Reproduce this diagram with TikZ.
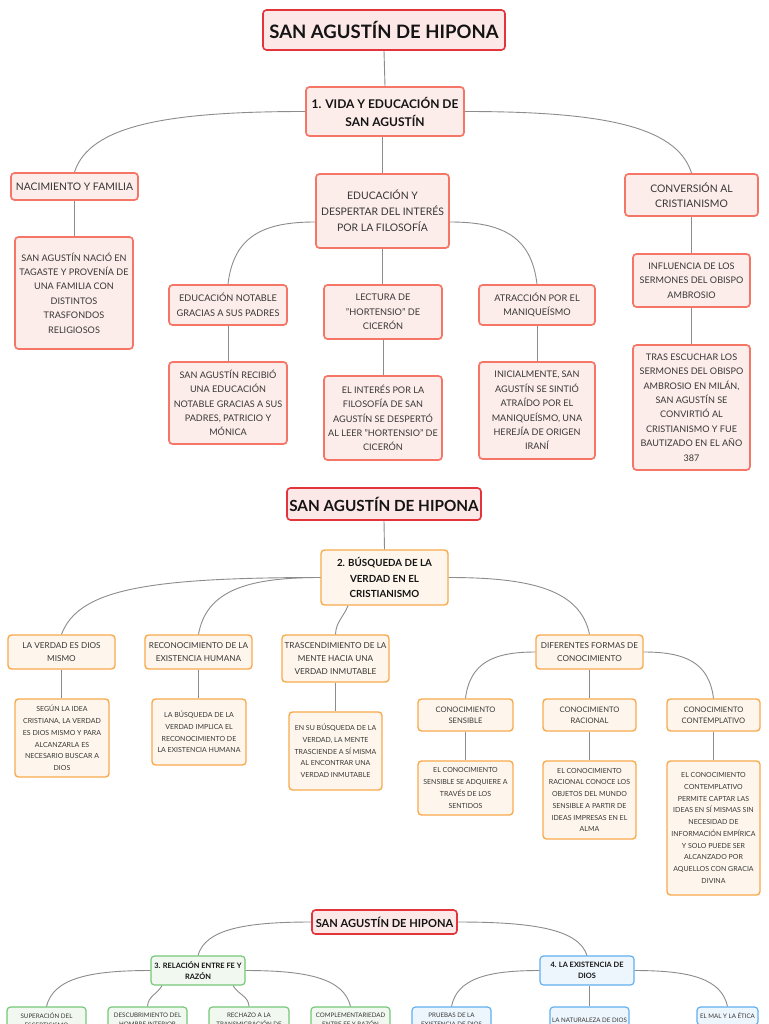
\documentclass[tikz,border=0pt]{standalone}
\usepackage{fontspec}
\setmainfont{Lato}
\usetikzlibrary{calc}
\definecolor{linec}{RGB}{140,140,140}
\definecolor{txt}{RGB}{55,55,55}
\definecolor{ttl}{RGB}{20,20,20}
\definecolor{c0f}{RGB}{253,232,232}
\definecolor{c0d}{RGB}{226,52,58}
\definecolor{c1f}{RGB}{253,237,234}
\definecolor{c1d}{RGB}{245,118,102}
\definecolor{c2f}{RGB}{254,246,236}
\definecolor{c2d}{RGB}{248,170,78}
\definecolor{c3f}{RGB}{241,248,239}
\definecolor{c3d}{RGB}{118,200,120}
\definecolor{c4f}{RGB}{238,246,253}
\definecolor{c4d}{RGB}{96,176,238}
\tikzset{
  conn/.style={draw=linec, line width=0.9pt},
  branch/.style={to path={let \p1=(\tikztostart), \p2=(\tikztotarget) in
    .. controls ({\x1+#1*(\x2-\x1)},\y1) and ({\x2-0.065*(\x2-\x1)},{\y2-0.78*(\y2-\y1)}) .. (\tikztotarget)}},
  branch/.default=0.59,
  geom/.style n args={4}{at={({(#1+#3)/2},{(#2+#4)/2})}, minimum width={(#3-#1)*1pt}, minimum height={(#4-#2)*1pt}},
  box/.style={rectangle, rounded corners=3.5pt, inner sep=0pt, align=center, text=txt},
  b0/.style={box, draw=c0d, fill=c0f, line width=1.6pt, text=ttl},
  b1/.style={box, draw=c1d, fill=c1f, line width=1.7pt},
  b2/.style={box, draw=c2d, fill=c2f, line width=1.4pt},
  b3/.style={box, draw=c3d, fill=c3f, line width=1.2pt},
  b4/.style={box, draw=c4d, fill=c4f, line width=1.2pt},
  fbig/.style={font={\fontsize{18.5}{22}\bfseries\selectfont}},
  fbigb/.style={font={\fontsize{15.3}{18}\bfseries\selectfont}},
  fbigc/.style={font={\fontsize{11.1}{13}\bfseries\selectfont}},
  fs1/.style={font={\fontsize{12}{18}\bfseries\selectfont}},
  fm1/.style={font={\fontsize{10.4}{15.3}\selectfont}},
  fn1/.style={font={\fontsize{9.2}{14.5}\selectfont}},
  fl1/.style={font={\fontsize{9.1}{14.4}\selectfont}},
  fs2/.style={font={\fontsize{9.8}{15.7}\bfseries\selectfont}},
  fm2/.style={font={\fontsize{8.2}{13}\selectfont}},
  fk2/.style={font={\fontsize{7.6}{11.3}\selectfont}},
  fl2/.style={font={\fontsize{7.0}{11.7}\selectfont}},
  fs3/.style={font={\fontsize{7.4}{11}\bfseries\selectfont}},
  fl3/.style={font={\fontsize{6.2}{9}\selectfont}},
}
\begin{document}
\begin{tikzpicture}[x=1pt,y=-1pt]
\useasboundingbox (0,0) rectangle (768,1024);
\fill[white] (0,0) rectangle (768,1024);
\clip (0,0) rectangle (768,1024);
% ---------------- Section 1
\node[b0,fbig, geom={263}{10}{505}{50}] (t1) {SAN AGUSTÍN DE HIPONA};
\node[b1,fs1,text=ttl, geom={306}{87}{464}{136}] (s1) {1. VIDA Y EDUCACIÓN DE\\SAN AGUSTÍN};
\node[b1,fm1, geom={11}{173}{138}{200}] (nac) {NACIMIENTO Y FAMILIA};
\node[b1,fm1,font={\fontsize{10.4}{16}\selectfont}, geom={316}{174}{449}{248}] (edu) {EDUCACIÓN Y\\DESPERTAR DEL INTERÉS\\POR LA FILOSOFÍA};
\node[b1,fm1, geom={625}{174}{758}{216}] (conv) {CONVERSIÓN AL\\CRISTIANISMO};
\node[b1,fl1, geom={15}{237}{133}{349}] (nacL) {SAN AGUSTÍN NACIÓ EN\\TAGASTE Y PROVENÍA DE\\UNA FAMILIA CON\\DISTINTOS\\TRASFONDOS\\RELIGIOSOS};
\node[b1,fn1, geom={169}{285}{287}{325}] (eduA) {EDUCACIÓN NOTABLE\\GRACIAS A SUS PADRES};
\node[b1,fn1, geom={324}{285}{442}{339}] (eduB) {LECTURA DE\\"HORTENSIO" DE\\CICERÓN};
\node[b1,fn1, geom={479}{285}{595}{325}] (eduC) {ATRACCIÓN POR EL\\MANIQUEÍSMO};
\node[b1,fl1, geom={169}{362}{287}{444}] (eduAL) {SAN AGUSTÍN RECIBIÓ\\UNA EDUCACIÓN\\NOTABLE GRACIAS A SUS\\PADRES, PATRICIO Y\\MÓNICA};
\node[b1,fl1, geom={324}{376}{442}{460}] (eduBL) {EL INTERÉS POR LA\\FILOSOFÍA DE SAN\\AGUSTÍN SE DESPERTÓ\\AL LEER "HORTENSIO" DE\\CICERÓN};
\node[b1,fl1, geom={479}{362}{595}{459}] (eduCL) {INICIALMENTE, SAN\\AGUSTÍN SE SINTIÓ\\ATRAÍDO POR EL\\MANIQUEÍSMO, UNA\\HEREJÍA DE ORIGEN\\IRANÍ};
\node[b1,fl1, geom={633}{254}{750}{307}] (convA) {INFLUENCIA DE LOS\\SERMONES DEL OBISPO\\AMBROSIO};
\node[b1,fl1, geom={633}{345}{750}{470}] (convL) {TRAS ESCUCHAR LOS\\SERMONES DEL OBISPO\\AMBROSIO EN MILÁN,\\SAN AGUSTÍN SE\\CONVIRTIÓ AL\\CRISTIANISMO Y FUE\\BAUTIZADO EN EL AÑO\\387};
\draw[conn] (t1.south) -- (s1.north);
\draw[conn] (s1.west) to[branch] (nac.north);
\draw[conn] (s1.east) to[branch] (conv.north);
\draw[conn] (edu.north) -- (edu.north |- s1.south);
\draw[conn] (nac.south) -- (nac.south |- nacL.north);
\draw[conn] ([yshift=-11pt]edu.west) to[branch] (eduA.north);
\draw[conn] (edu.south) -- (edu.south |- eduB.north);
\draw[conn] ([yshift=-11pt]edu.east) to[branch] (eduC.north);
\draw[conn] (eduA.south) -- (eduAL.north);
\draw[conn] (eduB.south) -- (eduBL.north);
\draw[conn] (eduC.south) -- (eduCL.north);
\draw[conn] (conv.south) -- (convA.north);
\draw[conn] (convA.south) -- (convL.north);
% ---------------- Section 2
\node[b0,fbigb, geom={287}{488}{481}{520}] (t2) {SAN AGUSTÍN DE HIPONA};
\node[b2,fs2,text=ttl, geom={321}{550}{448}{605}] (s2) {2. BÚSQUEDA DE LA\\VERDAD EN EL\\CRISTIANISMO};
\node[b2,fm2, geom={8}{635}{115}{669}] (v1) {LA VERDAD ES DIOS\\MISMO};
\node[b2,fm2, geom={145}{635}{252}{669}] (v2) {RECONOCIMIENTO DE LA\\EXISTENCIA HUMANA};
\node[b2,fm2, geom={282}{635}{389}{682}] (v3) {TRASCENDIMIENTO DE LA\\MENTE HACIA UNA\\VERDAD INMUTABLE};
\node[b2,fm2, geom={536}{635}{643}{669}] (v4) {DIFERENTES FORMAS DE\\CONOCIMIENTO};
\node[b2,fl2, geom={15}{699}{109}{777}] (v1L) {SEGÚN LA IDEA\\CRISTIANA, LA VERDAD\\ES DIOS MISMO Y PARA\\ALCANZARLA ES\\NECESARIO BUSCAR A\\DIOS};
\node[b2,fl2, geom={152}{699}{246}{765}] (v2L) {LA BÚSQUEDA DE LA\\VERDAD IMPLICA EL\\RECONOCIMIENTO DE\\LA EXISTENCIA HUMANA};
\node[b2,fl2, geom={289}{712}{382}{790}] (v3L) {EN SU BÚSQUEDA DE LA\\VERDAD, LA MENTE\\TRASCIENDE A SÍ MISMA\\AL ENCONTRAR UNA\\VERDAD INMUTABLE};
\node[b2,fk2, geom={418}{699}{513}{731}] (k1) {CONOCIMIENTO\\SENSIBLE};
\node[b2,fk2, geom={543}{699}{636}{731}] (k2) {CONOCIMIENTO\\RACIONAL};
\node[b2,fk2, geom={667}{699}{760}{731}] (k3) {CONOCIMIENTO\\CONTEMPLATIVO};
\node[b2,fl2, geom={418}{761}{513}{815}] (k1L) {EL CONOCIMIENTO\\SENSIBLE SE ADQUIERE A\\TRAVÉS DE LOS\\SENTIDOS};
\node[b2,fl2, geom={543}{761}{636}{839}] (k2L) {EL CONOCIMIENTO\\RACIONAL CONOCE LOS\\OBJETOS DEL MUNDO\\SENSIBLE A PARTIR DE\\IDEAS IMPRESAS EN EL\\ALMA};
\node[b2,fl2, geom={667}{761}{760}{895}] (k3L) {EL CONOCIMIENTO\\CONTEMPLATIVO\\PERMITE CAPTAR LAS\\IDEAS EN SÍ MISMAS SIN\\NECESIDAD DE\\INFORMACIÓN EMPÍRICA\\Y SOLO PUEDE SER\\ALCANZADO POR\\AQUELLOS CON GRACIA\\DIVINA};
\draw[conn] (t2.south) -- (s2.north);
\draw[conn] (s2.west) to[branch=0.68] (v1.north);
\draw[conn] (s2.west) to[branch] (v2.north);
\draw[conn] ([xshift=-36.5pt]s2.south) to[out=-112,in=88] (v3.north);
\draw[conn] (s2.east) to[branch] (v4.north);
\draw[conn] (v1.south) -- (v1.south |- v1L.north);
\draw[conn] (v2.south) -- (v2.south |- v2L.north);
\draw[conn] (v3.south) -- (v3.south |- v3L.north);
\draw[conn] (v4.west) to[branch] (k1.north);
\draw[conn] (v4.south) -- (k2.north);
\draw[conn] (v4.east) to[branch] (k3.north);
\draw[conn] (k1.south) -- (k1L.north);
\draw[conn] (k2.south) -- (k2L.north);
\draw[conn] (k3.south) -- (k3L.north);
% ---------------- Section 3 / 4
\node[b0,fbigc, geom={312}{910}{457}{934}] (t3) {SAN AGUSTÍN DE HIPONA};
\node[b3,fs3,text=ttl, geom={151}{956}{245}{985}] (s3) {3. RELACIÓN ENTRE FE Y\\RAZÓN};
\node[b4,fs3,text=ttl, geom={540}{956}{634}{985}] (s4) {4. LA EXISTENCIA DE\\DIOS};
\node[b3,fl3, geom={7}{1007}{86}{1033}] (g1) {SUPERACIÓN DEL\\ESCEPTICISMO};
\node[b3,fl3, geom={108}{1007}{187}{1033}] (g2) {DESCUBRIMIENTO DEL\\HOMBRE INTERIOR};
\node[b3,fl3, geom={209}{1007}{289}{1033}] (g3) {RECHAZO A LA\\TRANSMIGRACIÓN DE};
\node[b3,fl3, geom={311}{1007}{390}{1033}] (g4) {COMPLEMENTARIEDAD\\ENTRE FE Y RAZÓN};
\node[b4,fl3, geom={412}{1007}{491}{1033}] (p1) {PRUEBAS DE LA\\EXISTENCIA DE DIOS};
\node[b4,fl3, geom={550}{1007}{629}{1033}] (p2) {LA NATURALEZA DE DIOS};
\node[b4,fl3, geom={697}{1007}{758}{1025}] (p3) {EL MAL Y LA ÉTICA};
\draw[conn] (t3.west) to[branch] (s3.north);
\draw[conn] (t3.east) to[branch] (s4.north);
\draw[conn] (s3.west) to[branch] (g1.north);
\draw[conn] ([xshift=-36pt]s3.south) to[out=-120,in=88] (g2.north);
\draw[conn] ([xshift=35pt]s3.south) to[out=-60,in=92] (g3.north);
\draw[conn] (s3.east) to[branch] (g4.north);
\draw[conn] (s4.west) to[branch] (p1.north);
\draw[conn] (p2.north) -- (p2.north |- s4.south);
\draw[conn] (s4.east) to[branch] (p3.north);
\end{tikzpicture}
\end{document}
